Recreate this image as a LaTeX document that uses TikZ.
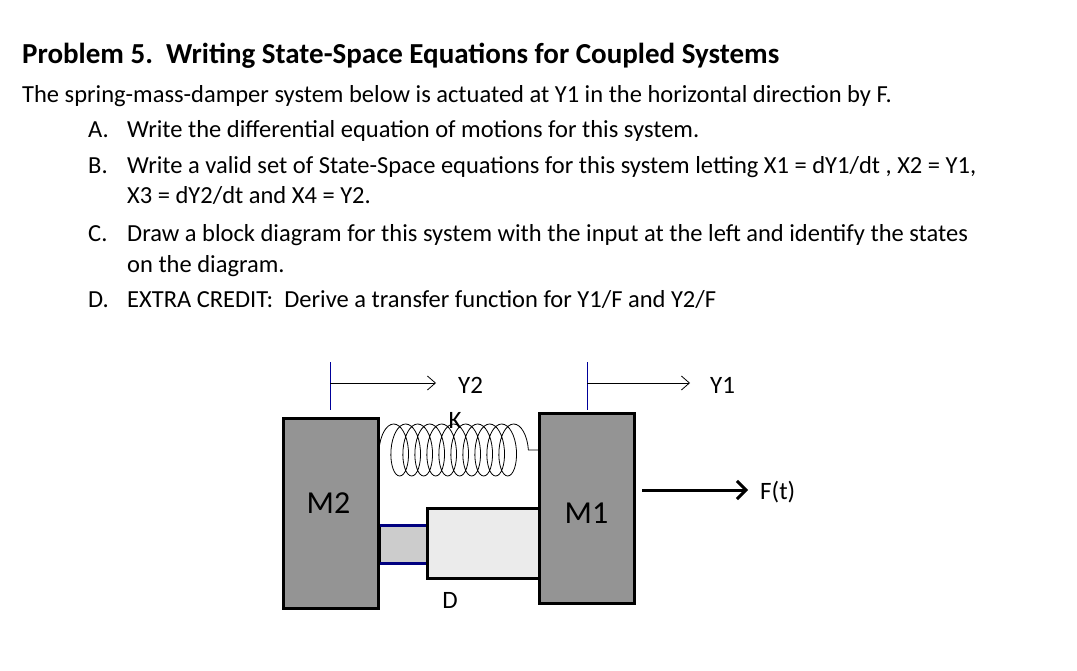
\documentclass[tikz,border=0pt]{standalone}
\usepackage{fontspec}
\setmainfont{Carlito}
\usetikzlibrary{decorations.pathmorphing,arrows.meta}
\begin{document}
\begin{tikzpicture}[x=1pt,y=-1pt,
  txt/.style={anchor=base west,inner sep=0pt,font=\fontsize{24.5}{28}\selectfont},
  mass/.style={draw,line width=3pt,fill=black!42},
  lbl/.style={inner sep=0pt,font=\fontsize{25}{29}\selectfont},
  posline/.style={draw=blue!60!black,line width=1pt},
  disp/.style={-{Straight Barb[length=8pt,width=14pt]},line width=0.8pt}]
\useasboundingbox[fill=white] (0,0) rectangle (1077,671);
\node[txt,font=\bfseries\fontsize{29}{33}\selectfont] (t0) at (22,64) {Problem 5.\ \ Writing State-Space Equations for Coupled Systems};
\node[txt] (t1) at (22,103) {The spring-mass-damper system below is actuated at Y1 in the horizontal direction by F.};
\node[txt] (a1) at (88,138) {A.};
\node[txt] (a2) at (127,138) {Write the differential equation of motions for this system.};
\node[txt] (b1) at (88,174) {B.};
\node[txt] (b2) at (127,174) {Write a valid set of State-Space equations for this system letting X1 = dY1/dt , X2 = Y1,};
\node[txt] (b3) at (127,204) {X3 = dY2/dt and X4 = Y2.};
\node[txt] (c1) at (88,242) {C.};
\node[txt] (c2) at (127,242) {Draw a block diagram for this system with the input at the left and identify the states};
\node[txt] (c3) at (127,273) {on the diagram.};
\node[txt] (d1) at (88,308) {D.};
\node[txt] (d2) at (127,308) {EXTRA CREDIT:\ \ Derive a transfer function for Y1/F and Y2/F};
% damper
\draw[line width=2.5pt,fill=black!20] (380,525) rectangle (427,563);
\draw[line width=3pt,draw=blue!50!black] (380,525) -- (427,525) (380,563) -- (427,563);
\draw[line width=3pt,fill=black!8] (427,508) rectangle (539,578);
% spring
\coordinate (s0) at (379,450);
\coordinate (s1) at (539,450);
\draw[line width=0.8pt,decorate,decoration={coil,amplitude=26pt,segment length=12pt,aspect=0.45}] (s0) -- (s1);
% masses
\draw[mass] (283,418) rectangle node[lbl,font=\fontsize{32}{36}\selectfont,xshift=-2pt,yshift=10pt] (m2) {M2} (378,608);
\draw[mass] (539,413) rectangle node[lbl,font=\fontsize{32}{36}\selectfont,yshift=-5pt] (m1) {M1} (634,603);
% position markers
\coordinate (p2a) at (330,362); \coordinate (p2b) at (330,410);
\coordinate (p1a) at (587,362); \coordinate (p1b) at (587,410);
\draw[posline] (p2a) -- (p2b);
\draw[posline] (p1a) -- (p1b);
\coordinate (e2) at (436,383); \coordinate (e1) at (690,383);
\draw[disp] (330,383) -- (e2);
\draw[disp] (587,383) -- (e1);
\node[lbl,anchor=west] (y2) at (458,385) {Y2};
\node[lbl,anchor=west] (y1) at (710,385) {Y1};
\node[lbl] (k) at (455,420) {K};
\node[lbl] (d) at (450,600) {D};
\coordinate (f0) at (642,490); \coordinate (f1) at (748,490);
\draw[line width=3pt,-{Straight Barb[length=9pt,width=18pt]}] (f0) -- (f1);
\node[lbl,anchor=west] (ft) at (760,492) {F(t)};
\end{tikzpicture}
\end{document}
